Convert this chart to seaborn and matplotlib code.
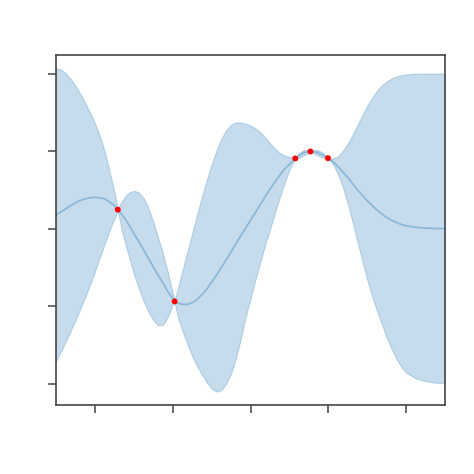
import numpy as np
import pandas as pd
import matplotlib
matplotlib.use("Agg")
import matplotlib.pyplot as plt
import seaborn as sns

# observed points
obs_x = [-3.41, -1.95, 1.15, 1.54, 1.99]
obs_y = [0.246, -0.937, 0.906, 0.996, 0.91]

# posterior mean and band edges
grid_x = [-5, -4.875, -4.75, -4.625, -4.5, -4.375, -4.25, -4.125, -4, -3.875,
          -3.75, -3.625, -3.5, -3.41, -3.3, -3.2, -3.1, -3, -2.875, -2.75,
          -2.625, -2.5, -2.375, -2.25, -2.125, -2, -1.95, -1.875, -1.75, -1.625,
          -1.5, -1.375, -1.25, -1.125, -1, -0.875, -0.75, -0.625, -0.5, -0.375,
          -0.25, -0.125, 0, 0.125, 0.25, 0.375, 0.5, 0.625, 0.75, 0.875,
          1, 1.075, 1.15, 1.25, 1.35, 1.45, 1.54, 1.65, 1.75, 1.85,
          1.99, 2.06, 2.125, 2.25, 2.375, 2.5, 2.625, 2.75, 2.875, 3,
          3.125, 3.25, 3.375, 3.5, 3.625, 3.75, 3.875, 4, 4.25, 4.5,
          4.75, 5]
mean = [0.175, 0.215, 0.255, 0.295, 0.335, 0.365, 0.385, 0.40, 0.405, 0.40,
        0.385, 0.345, 0.30, 0.25, 0.18, 0.11, 0.03, -0.06, -0.16, -0.27,
        -0.38, -0.49, -0.60, -0.70, -0.81, -0.90, -0.937, -0.955, -0.975, -0.975,
        -0.955, -0.915, -0.85, -0.78, -0.69, -0.60, -0.50, -0.40, -0.30, -0.19,
        -0.09, 0.01, 0.11, 0.21, 0.31, 0.41, 0.51, 0.60, 0.69, 0.77,
        0.83, 0.87, 0.906, 0.945, 0.975, 0.99, 0.996, 0.99, 0.975, 0.95,
        0.91, 0.885, 0.86, 0.80, 0.73, 0.66, 0.58, 0.50, 0.43, 0.36,
        0.30, 0.24, 0.19, 0.145, 0.11, 0.08, 0.055, 0.038, 0.018, 0.008,
        0.003, 0.0]
upper = [2.07, 2.05, 2.005, 1.935, 1.845, 1.74, 1.625, 1.50, 1.36, 1.20,
         1.00, 0.75, 0.48, 0.26, 0.36, 0.43, 0.47, 0.49, 0.47, 0.40,
         0.27, 0.09, -0.11, -0.32, -0.56, -0.83, -0.92, -0.78, -0.54, -0.30,
         -0.06, 0.18, 0.41, 0.63, 0.83, 1.01, 1.16, 1.27, 1.34, 1.37,
         1.37, 1.355, 1.33, 1.295, 1.245, 1.18, 1.105, 1.035, 0.98, 0.945,
         0.925, 0.917, 0.912, 0.975, 1.01, 1.015, 1.006, 1.015, 1.01, 0.98,
         0.915, 0.905, 0.905, 0.935, 1.005, 1.10, 1.215, 1.34, 1.465, 1.585,
         1.69, 1.78, 1.85, 1.90, 1.938, 1.963, 1.98, 1.99, 1.998, 2.0,
         2.0, 2.0]
lower = [-1.71, -1.585, -1.455, -1.32, -1.18, -1.035, -0.885, -0.725, -0.555, -0.38,
         -0.20, -0.025, 0.13, 0.235, -0.04, -0.23, -0.40, -0.58, -0.77, -0.93,
         -1.07, -1.18, -1.245, -1.24, -1.14, -0.98, -0.95, -1.13, -1.32, -1.48,
         -1.64, -1.77, -1.88, -1.98, -2.06, -2.10, -2.08, -2.00, -1.87, -1.67,
         -1.42, -1.14, -0.90, -0.66, -0.43, -0.21, -0.01, 0.20, 0.40, 0.59,
         0.76, 0.84, 0.895, 0.915, 0.94, 0.965, 0.986, 0.965, 0.94, 0.92,
         0.90, 0.87, 0.83, 0.70, 0.53, 0.32, 0.08, -0.17, -0.42, -0.66,
         -0.87, -1.06, -1.235, -1.40, -1.55, -1.68, -1.78, -1.855, -1.93, -1.965,
         -1.985, -1.99]

df = pd.DataFrame({"x": grid_x, "mean": mean, "lower": lower, "upper": upper})
pts = pd.DataFrame({"x": obs_x, "y": obs_y})

sns.set_style("ticks")
fig = plt.figure(figsize=(4.74, 4.74), dpi=100)
ax = fig.add_axes([0.118, 0.146, 0.821, 0.738])

ax.fill_between(df["x"], df["lower"], df["upper"], color="tab:blue", alpha=0.25,
                linewidth=0.8)
sns.lineplot(data=df, x="x", y="mean", ax=ax, color="tab:blue", alpha=0.35, linewidth=1.3)
sns.scatterplot(data=pts, x="x", y="y", ax=ax, color="red", s=18, edgecolor="none", zorder=5)

ax.set_xlim(-5, 5)
ax.set_ylim(-2.27, 2.24)
ax.set_xticks([-4, -2, 0, 2, 4])
ax.set_yticks([-2, -1, 0, 1, 2])
ax.set_xticklabels([])
ax.set_yticklabels([])
ax.set_xlabel("")
ax.set_ylabel("")
for s in ax.spines.values():
    s.set_color("#444444")
    s.set_linewidth(1.2)
ax.tick_params(length=6, width=1.1, color="#444444")

fig.savefig("out.png", dpi=100)
